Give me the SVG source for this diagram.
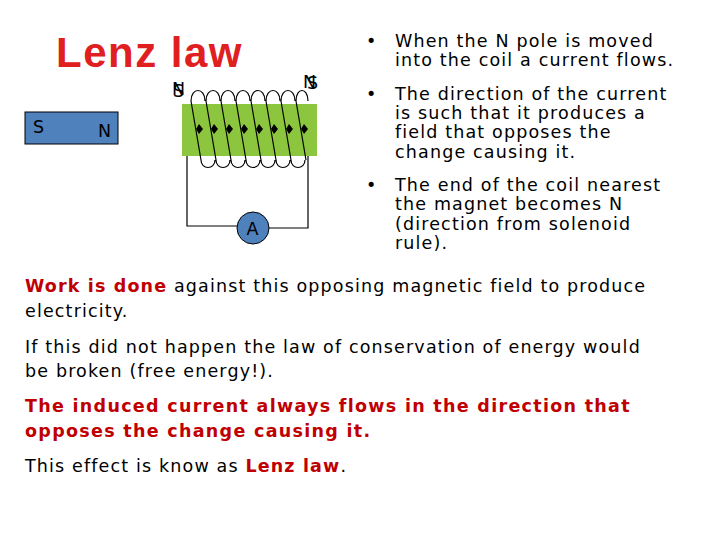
<svg xmlns="http://www.w3.org/2000/svg" width="720" height="540" viewBox="0 0 720 540">
<style>
.t{font-family:"DejaVu Sans",sans-serif;font-size:17.5px;fill:#000;letter-spacing:1.15px}
.r{fill:#c00000;font-weight:bold}
.w{fill:none;stroke:#000;stroke-width:1.2}
</style>
<rect width="720" height="540" fill="#fff"/>
<text x="56" y="67" font-family="Liberation Sans,sans-serif" font-size="42" font-weight="bold" fill="#e02020" letter-spacing="1.5">Lenz law</text>
<g id="magnet"><rect x="25" y="112" width="93" height="32" fill="#4f81bd" stroke="#000"/>
<text x="33" y="133" class="t" font-size="16" letter-spacing="0">S</text><text x="98" y="137" class="t" font-size="16" letter-spacing="0">N</text></g>
<g id="coil">
<rect x="182" y="104" width="135" height="52" fill="#8cc63f"/>
<path class="w" d="M191 101c0-14 14-14 14 0M206 101c0-14 14-14 14 0M221 101c0-14 14-14 14 0M236 101c0-14 14-14 14 0M251 101c0-14 14-14 14 0M266 101c0-14 14-14 14 0M281 101c0-14 14-14 14 0M296 101c0-14 12-14 12 0"/>
<path class="w" d="M191 101L201 160M206 101L216 160M221 101L231 160M236 101L246 160M251 101L261 160M266 101L276 160M281 101L291 160M296 101L306 160"/>
<path class="w" d="M201 160c0 10 14 10 14 0M216 160c0 10 14 10 14 0M231 160c0 10 14 10 14 0M246 160c0 10 14 10 14 0M261 160c0 10 14 10 14 0M276 160c0 10 14 10 14 0M291 160c0 10 14 10 14 0"/>
<g fill="#000"><path d="M199 124l4 5-4 5-3-5z M214 124l4 5-4 5-3-5z M229 124l4 5-4 5-3-5z M244 124l4 5-4 5-3-5z M259 124l4 5-4 5-3-5z M274 124l4 5-4 5-3-5z M289 124l4 5-4 5-3-5z M304 124l4 5-4 5-3-5z"/></g>
<text x="172" y="95" class="t" font-size="16" letter-spacing="0">N</text><text x="173" y="97" class="t" font-size="16" letter-spacing="0">S</text>
<text x="303" y="88" class="t" font-size="16" letter-spacing="0">N</text><text x="307" y="89" class="t" font-size="16" letter-spacing="0">S</text>
</g>
<g id="conn"><path class="w" d="M187 156V226H237M269 228H308V156"/></g>
<g id="ammeter"><circle cx="253" cy="228" r="16" fill="#4f81bd" stroke="#000"/><text x="253" y="235" text-anchor="middle" class="t" font-size="16" letter-spacing="0">A</text></g>
<g class="t">
<text x="366" y="47">•</text><text x="395" y="47">When the N pole is moved</text><text x="395" y="66">into the coil a current flows.</text>
<text x="366" y="100">•</text><text x="395" y="100">The direction of the current</text><text x="395" y="119">is such that it produces a</text><text x="395" y="138">field that opposes the</text><text x="395" y="158">change causing it.</text>
<text x="366" y="191">•</text><text x="395" y="191">The end of the coil nearest</text><text x="395" y="210">the magnet becomes N</text><text x="395" y="230">(direction from solenoid</text><text x="395" y="249">rule).</text>
<text x="25" y="292"><tspan class="r">Work is done</tspan> against this opposing magnetic field to produce</text><text x="25" y="317">electricity.</text>
<text x="25" y="353">If this did not happen the law of conservation of energy would</text><text x="25" y="377">be broken (free energy!).</text>
<text x="25" y="412" class="r" letter-spacing="1.3">The induced current always flows in the direction that</text><text x="25" y="437" class="r" letter-spacing="1.3">opposes the change causing it.</text>
<text x="25" y="472">This effect is know as <tspan class="r">Lenz law</tspan>.</text>
</g>
</svg>
